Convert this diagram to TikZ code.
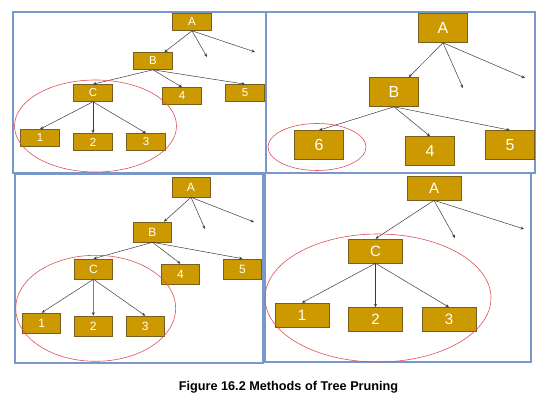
\documentclass[tikz,border=0pt]{standalone}
\usepackage{fontspec}
\setmainfont{Liberation Sans}
\usetikzlibrary{arrows.meta}
\definecolor{boxfill}{RGB}{204,153,0}
\definecolor{boxedge}{RGB}{120,95,30}
\definecolor{framecol}{RGB}{120,152,204}
\definecolor{ringcol}{RGB}{225,80,85}
\definecolor{edgecol}{RGB}{60,60,60}

\begin{document}
\begin{tikzpicture}[x=1pt, y=-1pt,
		tbox/.style={draw=boxedge, fill=boxfill, text=white, inner sep=0pt, line width=0.6pt},
		smallbox/.style={tbox, minimum width=39pt, minimum height=17pt, font=\fontsize{11.5}{11.5}\selectfont},
		midbox/.style={tbox, minimum width=38pt, minimum height=20pt, font=\fontsize{12}{12}\selectfont},
		bigbox/.style={tbox, minimum width=49pt, minimum height=29pt, font=\fontsize{16}{16}\selectfont},
		widebox/.style={tbox, minimum width=54pt, minimum height=24pt, font=\fontsize{15}{15}\selectfont},
		branch/.style={draw=edgecol, line width=0.5pt, -{Stealth[length=3.5pt,width=3pt]}},
		panel/.style={draw=framecol, line width=1.3pt},
		ring/.style={draw=ringcol, line width=0.6pt}]
		\useasboundingbox[fill=white] (0,0) rectangle (552,403);

		% Kaders
		\draw[panel] (13,12) rectangle (266,173);
		\draw[panel] (266,12) rectangle (535,173);
		\draw[panel] (15,174) rectangle (263,363);
		\draw[panel] (265,173) rectangle (531,362);

		% Boom 1 (volledig)
		\node[smallbox] (a1) at (192,22) {A};
		\node[smallbox] (b1) at (153,61) {B};
		\node[smallbox] (c1) at (93,93) {C};
		\node[smallbox] (d1) at (182,96) {4};
		\node[smallbox] (e1) at (245,93) {5};
		\node[smallbox] (f1) at (40,138) {1};
		\node[smallbox] (g1) at (93,142) {2};
		\node[smallbox] (h1) at (146,142) {3};
		\coordinate (p1) at (207,57);
		\coordinate (q1) at (255,52);
		\foreach \t in {b1,p1,q1} \draw[branch] (a1.south) -- (\t);
		\foreach \t in {c1,d1,e1} \draw[branch] (b1.south) -- (\t.north);
		\foreach \t in {f1,g1,h1} \draw[branch] (c1.south) -- (\t.north);
		\draw[ring] (95.5,126) ellipse [x radius=81, y radius=46];

		% Boom 2 (subtree replacement)
		\node[bigbox] (a2) at (443,28) {A};
		\node[bigbox] (b2) at (394,92) {B};
		\node[bigbox] (c2) at (319,145) {6};
		\node[bigbox] (d2) at (430,151) {4};
		\node[bigbox] (e2) at (510,145) {5};
		\coordinate (p2) at (463,88);
		\coordinate (q2) at (525,78);
		\foreach \t in {b2,p2,q2} \draw[branch] (a2.south) -- (\t);
		\foreach \t in {c2,d2,e2} \draw[branch] (b2.south) -- (\t.north);
		\draw[ring] (317,147) ellipse [x radius=49, y radius=23.5];

		% Boom 3 (volledig)
		\node[midbox] (a3) at (191,187) {A};
		\node[midbox] (b3) at (152.5,232) {B};
		\node[midbox] (c3) at (93.5,269) {C};
		\node[midbox] (d3) at (180.5,274) {4};
		\node[midbox] (e3) at (242.5,269) {5};
		\node[midbox] (f3) at (41.7,323) {1};
		\node[midbox] (g3) at (93.3,326) {2};
		\node[midbox] (h3) at (145.3,326) {3};
		\coordinate (p3) at (205,229);
		\coordinate (q3) at (254,222);
		\foreach \t in {b3,p3,q3} \draw[branch] (a3.south) -- (\t);
		\foreach \t in {c3,d3,e3} \draw[branch] (b3.south) -- (\t.north);
		\foreach \t in {f3,g3,h3} \draw[branch] (c3.south) -- (\t.north);
		\draw[ring] (95.7,308.3) ellipse [x radius=80, y radius=53];

		% Boom 4 (subtree raising)
		\node[widebox] (a4) at (434,188) {A};
		\node[widebox] (c4) at (375.5,251) {C};
		\node[widebox] (f4) at (302,315) {1};
		\node[widebox] (g4) at (375.5,319.5) {2};
		\node[widebox] (h4) at (449,319.5) {3};
		\coordinate (p4) at (455,238);
		\coordinate (q4) at (524,229);
		\foreach \t in {p4,q4} \draw[branch] (a4.south) -- (\t);
		\draw[branch] (a4.south) -- (c4.north);
		\foreach \t in {f4,g4,h4} \draw[branch] (c4.south) -- (\t.north);
		\draw[ring] (378,298) ellipse [x radius=113, y radius=64];

		% Onderschrift
		\node[font=\bfseries\fontsize{12.7}{13}\selectfont] (cap) at (288.5,387) {Figure 16.2 Methods of Tree Pruning};
	\end{tikzpicture}
\end{document}
